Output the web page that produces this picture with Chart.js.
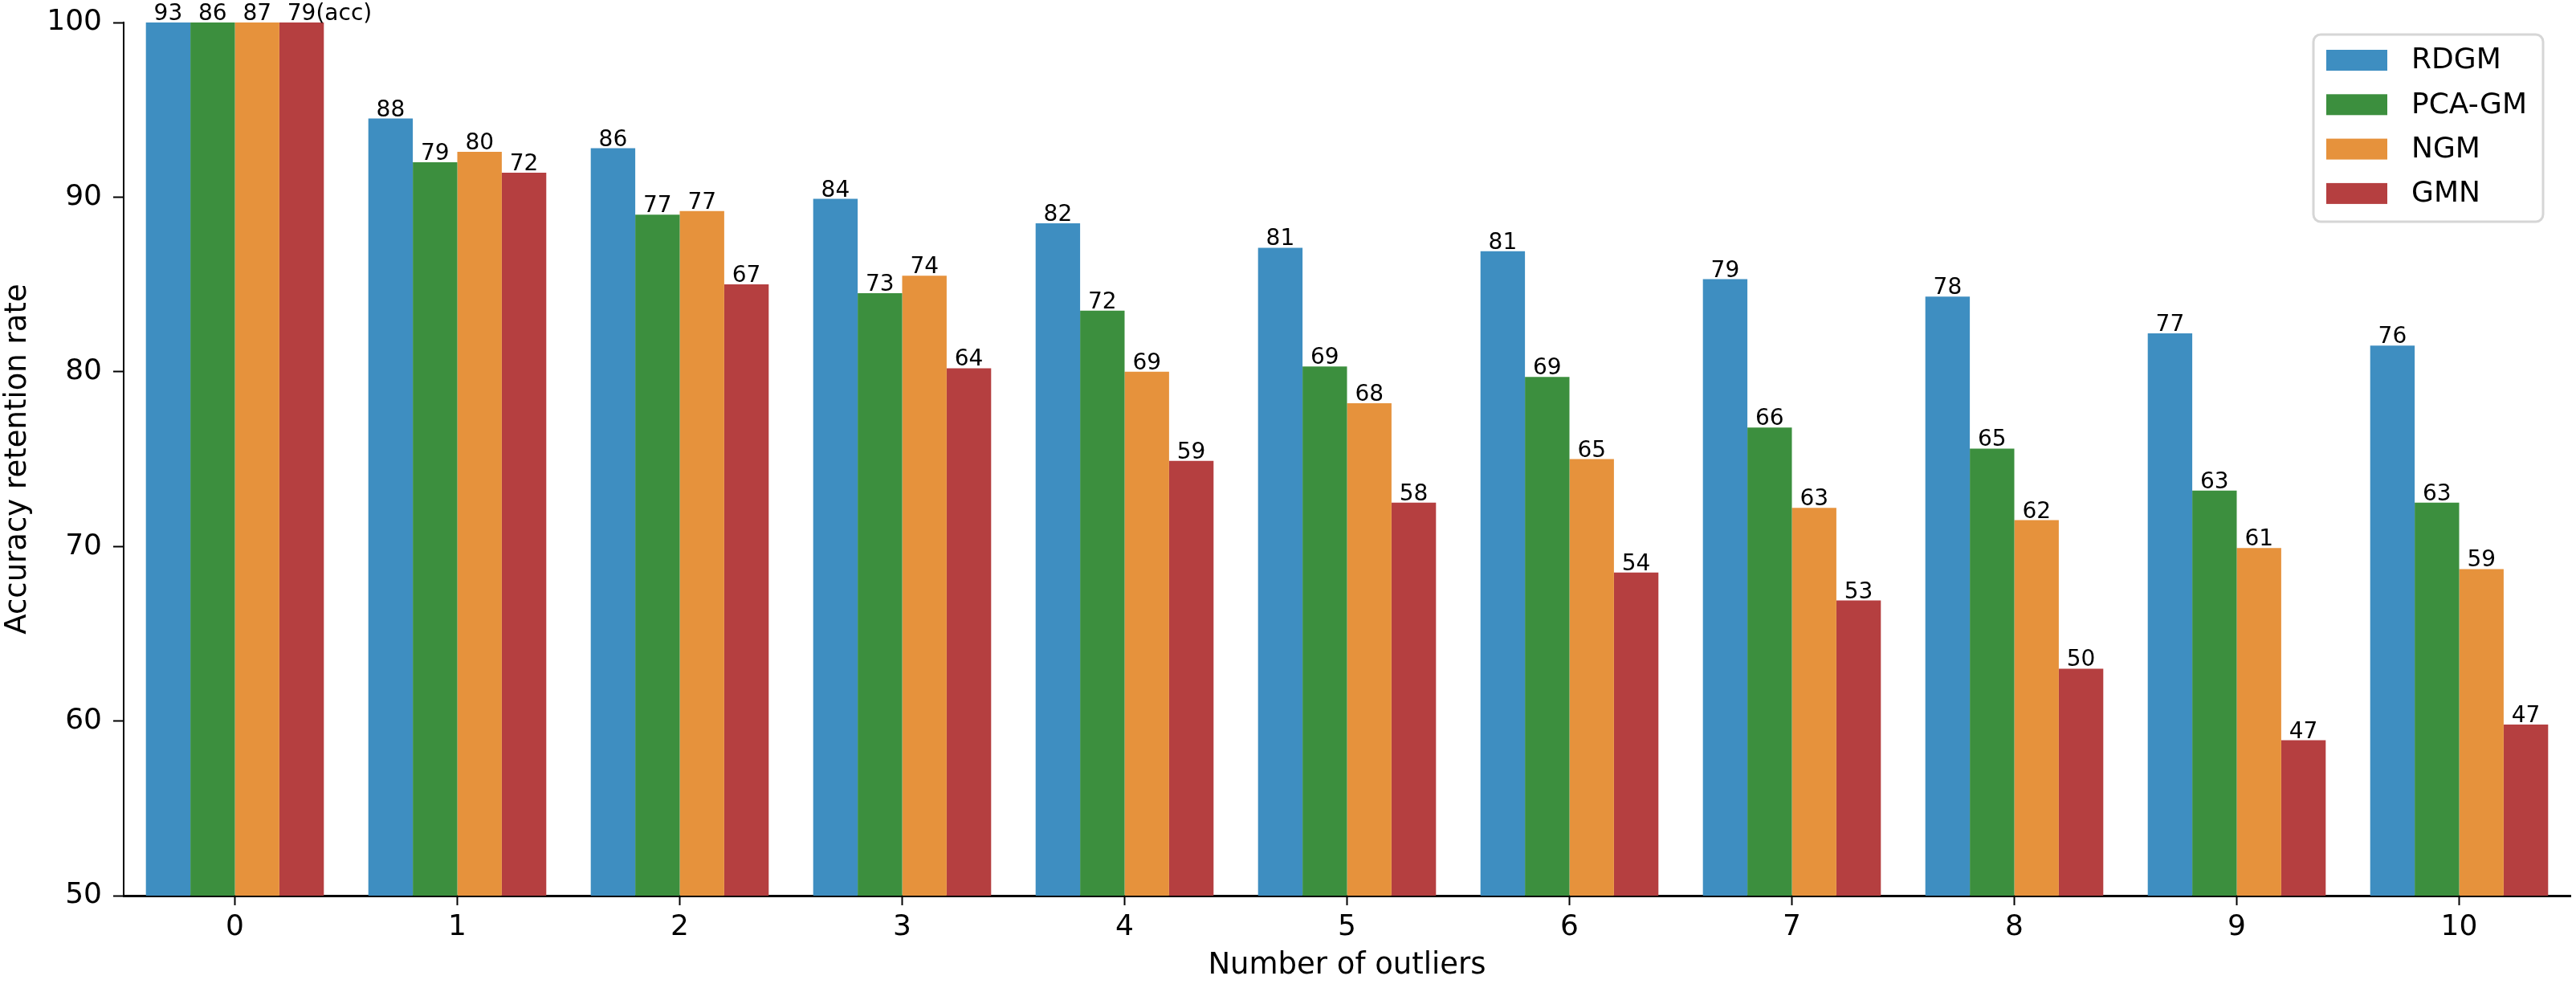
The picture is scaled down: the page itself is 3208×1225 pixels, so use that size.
<!DOCTYPE html>
<html>
<head>
<meta charset="utf-8">
<script src="https://cdn.jsdelivr.net/npm/chart.js@4/dist/chart.umd.min.js"></script>
<style>
  body { margin: 0; background: #fff; }
  canvas { display: block; }
</style>
</head>
<body>
<canvas id="barChart" width="3208" height="1225"></canvas>
<script>
// categories (number of outliers)
var outliers = ["0", "1", "2", "3", "4", "5", "6", "7", "8", "9", "10"];
var methods = ["RDGM", "PCA-GM", "NGM", "GMN"];

// accuracy retention rate (bar heights)
var rdgmRate = [100, 94.5, 92.8, 89.9, 88.5, 87.1, 86.9, 85.3, 84.3, 82.2, 81.5];
var pcagmRate = [100, 92.0, 89.0, 84.5, 83.5, 80.3, 79.7, 76.8, 75.6, 73.2, 72.5];
var ngmRate = [100, 92.6, 89.2, 85.5, 80.0, 78.2, 75.0, 72.2, 71.5, 69.9, 68.7];
var gmnRate = [100, 91.4, 85.0, 80.2, 74.9, 72.5, 68.5, 66.9, 63.0, 58.9, 59.8];

// accuracy printed on top of each bar
var rdgmAcc = [93, 88, 86, 84, 82, 81, 81, 79, 78, 77, 76];
var pcagmAcc = [86, 79, 77, 73, 72, 69, 69, 66, 65, 63, 63];
var ngmAcc = [87, 80, 77, 74, 69, 68, 65, 63, 62, 61, 59];
var gmnAcc = [79, 72, 67, 64, 59, 58, 54, 53, 50, 47, 47];

var yTicks = [50, 60, 70, 80, 90, 100];

var colors = ["rgb(62,142,193)", "rgb(60,143,62)", "rgb(230,146,60)", "rgb(181,63,64)"];
var rates = [rdgmRate, pcagmRate, ngmRate, gmnRate];
var accs = [rdgmAcc, pcagmAcc, ngmAcc, gmnAcc];
var FONT = "'DejaVu Sans', sans-serif";

// draw the accuracy number above every bar
var barLabels = {
    id: "barLabels",
    afterDatasetsDraw: function (chart) {
        var ctx = chart.ctx;
        ctx.save();
        ctx.font = "28px " + FONT;
        ctx.fillStyle = "#000";
        ctx.textBaseline = "alphabetic";
        chart.data.datasets.forEach(function (ds, i) {
            var meta = chart.getDatasetMeta(i);
            meta.data.forEach(function (bar, j) {
                var txt = String(accs[i][j]);
                ctx.textAlign = "center";
                ctx.fillText(txt, bar.x, bar.y - 3);
                // last bar of first group carries the "(acc)" hint
                if (i === chart.data.datasets.length - 1 && j === 0) {
                    var w = ctx.measureText(txt).width;
                    ctx.textAlign = "left";
                    ctx.fillText("(acc)", bar.x + w / 2, bar.y - 3);
                }
            });
        });
        ctx.restore();
    }
};

// matplotlib-like legend box in the upper right
var boxLegend = {
    id: "boxLegend",
    afterDraw: function (chart) {
        var ctx = chart.ctx;
        var x = 2881, y = 43, w = 286, h = 233, r = 9;
        ctx.save();
        ctx.beginPath();
        ctx.roundRect(x, y, w, h, r);
        ctx.fillStyle = "rgba(255,255,255,0.8)";
        ctx.fill();
        ctx.lineWidth = 3;
        ctx.strokeStyle = "#d6d6d6";
        ctx.stroke();
        ctx.font = "36px " + FONT;
        ctx.textAlign = "left";
        ctx.textBaseline = "middle";
        chart.data.datasets.forEach(function (ds, i) {
            var cy = 75 + i * 55.3;
            ctx.fillStyle = ds.backgroundColor;
            ctx.fillRect(2897, cy - 13, 76, 26);
            ctx.fillStyle = "#000";
            ctx.fillText(ds.label, 3003, cy + 1);
        });
        ctx.restore();
    }
};

var datasets = methods.map(function (name, i) {
    return {
        label: name,
        data: rates[i],
        backgroundColor: colors[i],
        borderWidth: 0,
        categoryPercentage: 0.8,
        barPercentage: 1.0
    };
});

document.addEventListener("DOMContentLoaded", function () {
    var ctx = document.getElementById("barChart").getContext("2d");
    new Chart(ctx, {
        type: "bar",
        data: {
            labels: outliers,
            datasets: datasets
        },
        options: {
            responsive: false,
            animation: false,
            devicePixelRatio: 1,
            layout: {
                padding: { top: 28, right: 7, left: 0, bottom: 0 }
            },
            plugins: {
                legend: { display: false },
                tooltip: { enabled: false }
            },
            scales: {
                x: {
                    offset: true,
                    grid: {
                        display: true,
                        offset: false,
                        drawOnChartArea: false,
                        drawTicks: true,
                        tickLength: 12,
                        tickWidth: 2,
                        tickColor: "#000"
                    },
                    border: { display: true, color: "#000", width: 3 },
                    ticks: {
                        color: "#000",
                        font: { family: FONT, size: 36 },
                        padding: 6,
                        maxRotation: 0
                    },
                    title: {
                        display: true,
                        text: "Number of outliers",
                        color: "#000",
                        font: { family: FONT, size: 37 },
                        padding: 0
                    },
                    afterFit: function (scale) {
                        scale.height = 110;
                        scale.paddingLeft = 0;
                        scale.paddingRight = 0;
                    }
                },
                y: {
                    min: 50,
                    max: 100,
                    afterBuildTicks: function (scale) {
                        scale.ticks = yTicks.map(function (v) { return { value: v }; });
                    },
                    grid: {
                        display: true,
                        drawOnChartArea: false,
                        drawTicks: true,
                        tickLength: 13,
                        tickWidth: 2,
                        tickColor: "#000"
                    },
                    border: { display: true, color: "#000", width: 2 },
                    ticks: {
                        color: "#000",
                        font: { family: FONT, size: 36 },
                        padding: 14
                    },
                    title: {
                        display: true,
                        text: "Accuracy retention rate",
                        color: "#000",
                        font: { family: FONT, size: 37 },
                        padding: 0
                    },
                    afterFit: function (scale) {
                        scale.width = 154;
                        scale.paddingTop = 0;
                        scale.paddingBottom = 0;
                    }
                }
            }
        },
        plugins: [barLabels, boxLegend]
    });
});
</script>
</body>
</html>
